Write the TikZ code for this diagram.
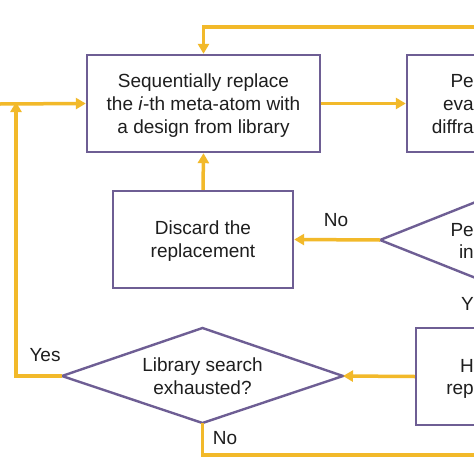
\documentclass[tikz,border=0pt]{standalone}
\usepackage{fontspec}
\setmainfont{Liberation Sans}
\usetikzlibrary{arrows.meta}
\definecolor{flow}{HTML}{F2B92A}
\definecolor{frame}{HTML}{6E5E94}
\definecolor{ink}{HTML}{1E1E1E}
\tikzset{
  box/.style={draw=frame, line width=2.4pt, fill=white, rectangle, inner sep=0pt, align=center, text=ink},
  dia/.style={draw=frame, line width=2.4pt, fill=white},
  txt/.style={text=ink, inner sep=0pt, align=center},
  conn/.style={draw=flow, line width=3.5pt},
  arr/.style={conn, -{Triangle[length=10pt,width=11pt]}},
  lbl/.style={text=ink, inner sep=0pt},
  frag/.style={text=ink, inner sep=0pt, anchor=base east},
}
\begin{document}
\begin{tikzpicture}[x=1pt,y=-1pt,font=\fontsize{19}{23}\selectfont]
\useasboundingbox (0,0) rectangle (474,474);
\fill[white] (0,0) rectangle (474,474);
\clip (0,0) rectangle (474,474);
% boxes
\node[box, minimum width=233pt, minimum height=97pt] (b1) at (203.5,103.5) {};
\node[txt, yshift=-2pt] (b1t) at (b1.center) {Sequentially replace\\the \textit{i}-th meta-atom with\\a design from library};
\node[box, minimum width=233pt, minimum height=97pt] (b2) at (523.5,103.5) {};
\node[box, minimum width=180pt, minimum height=97pt] (b3) at (203,239.5) {};
\node[txt, yshift=-1.5pt] (b3t) at (b3.center) {Discard the\\replacement};
\node[box, minimum width=233pt, minimum height=97pt] (b4) at (532.5,376.5) {};
% diamonds
\coordinate (d2w) at (380,240);
\coordinate (d2n) at (521,184);
\coordinate (d2s) at (521,296);
\coordinate (d2e) at (662,240);
\draw[dia] (d2w) -- (d2n) -- (d2e) -- (d2s) -- cycle;
\coordinate (d1w) at (62,376);
\coordinate (d1n) at (202.5,328);
\coordinate (d1e) at (343,376);
\coordinate (d1s) at (202.5,423);
\draw[dia] (d1w) -- (d1n) -- (d1e) -- (d1s) -- cycle;
\node[txt] (d1t) at (202.5,376) {Library search\\exhausted?};
% truncated texts at the right edge
\node[frag] (t1) at (474,87) {Pe};
\node[frag] (t2) at (474,110) {eva};
\node[frag] (t3) at (474,133) {diffra};
\node[frag] (t4) at (474,236) {Pe};
\node[frag] (t5) at (474,258) {in};
\node[frag] (t6) at (474,310) {Y};
\node[frag] (t7) at (474,372) {H};
\node[frag] (t8) at (474,394) {rep};
% coordinates
\coordinate (in) at (0,104);
\coordinate (topR) at (474,27);
\coordinate (topL) at (203.5,27);
\coordinate (yesC) at (16,376);
\coordinate (yesT) at (16,104);
\coordinate (noC) at (202.5,455);
\coordinate (noR) at (474,455);
% connectors
\draw[arr] (in) -- (b1.west);
\draw[arr] (b1.east) -- (b2.west);
\draw[arr] (topR) -- (topL) -- (b1.north);
\draw[arr] (b3.north) -- (b1.south);
\draw[arr] (d2w) -- (b3.east);
\draw[arr] (b4.west) -- (d1e);
\draw[arr] (d1w) -- (yesC) -- ([yshift=2pt]yesT);
\draw[conn] (d1s) -- (noC) -- (noR);
% labels
\node[lbl] (lno1) at (336,220) {No};
\node[lbl] (lyes) at (45,355) {Yes};
\node[lbl] (lno2) at (225,438) {No};
\end{tikzpicture}
\end{document}
